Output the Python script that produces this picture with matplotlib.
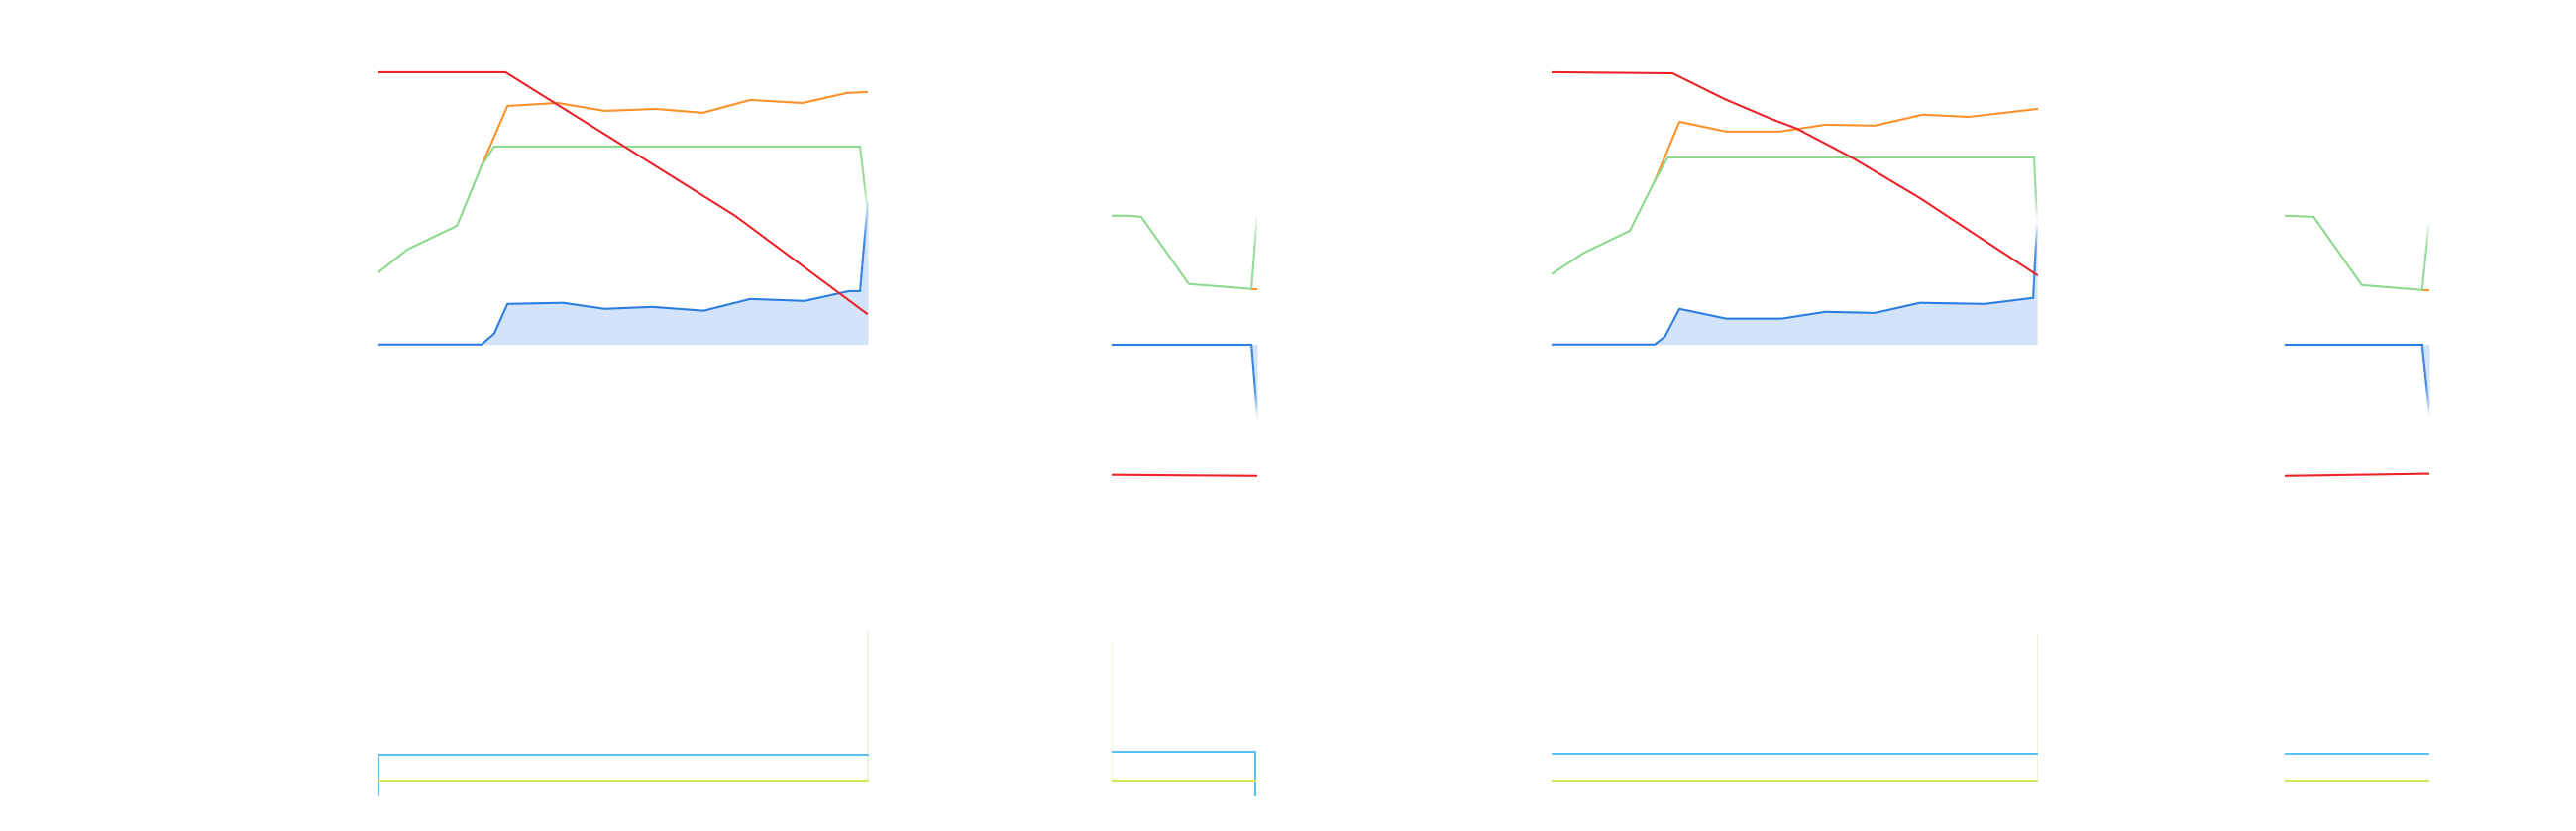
import numpy as np
import matplotlib
matplotlib.use("Agg")
import matplotlib.pyplot as plt
from matplotlib.collections import LineCollection

# colours
RED = "#ec2229"
ORANGE = "#fb9128"
GREEN = "#8dd98f"
BLUE = "#2b7de0"
FILL = "#d3e3f9"
SKY = "#5cc1f2"
YELLOW = "#d6e65c"

# ---- left half, main panel (x: 0..10) ----
l_red_x = [0, 2.59, 7.27, 9.96]
l_red_y = [100, 100, 47.3, 11.3]
l_orange_x = [2.10, 2.63, 3.66, 4.61, 5.66, 6.61, 7.58, 8.65, 9.56, 9.96]
l_orange_y = [65.5, 87.6, 88.7, 85.8, 86.5, 85.1, 89.8, 88.7, 92.4, 92.7]
l_green_x = [0, 0.59, 1.60, 2.10, 2.36, 9.82, 9.98]
l_green_y = [26.5, 34.9, 43.6, 65.5, 72.7, 72.7, 48.0]
l_blue_x = [0, 2.10, 2.36, 2.63, 3.76, 4.61, 5.58, 6.63, 7.58, 8.69, 9.60, 9.82, 9.98]
l_blue_y = [0, 0, 4.0, 14.9, 15.3, 13.1, 13.8, 12.4, 16.7, 16.0, 19.6, 19.6, 53.0]
l_sky_x = [0, 0, 9.98]
l_sky_y = [-165.5, -150.9, -150.9]
l_yellow_x = [0, 9.98]
l_yellow_y = [-160.4, -160.4]
l_ghost_x = [9.98, 9.98]
l_ghost_y = [-105.5, -160.4]

# ---- left half, small panel (x: 0..3) ----
ls_green_x = [0, 0.33, 0.61, 1.59, 2.88, 3.0]
ls_green_y = [47.3, 47.3, 46.9, 22.2, 20.4, 48.0]
ls_orange_x = [2.88, 3.0]
ls_orange_y = [20.4, 20.4]
ls_blue_x = [0, 2.88, 3.0]
ls_blue_y = [0, 0, -27.0]
ls_red_x = [0, 3.0]
ls_red_y = [-48.0, -48.4]
ls_sky_x = [0, 2.96, 2.96]
ls_sky_y = [-149.8, -149.8, -165.5]
ls_yellow_x = [0, 2.96]
ls_yellow_y = [-160.4, -160.4]
ls_ghost_x = [0, 0]
ls_ghost_y = [-109.0, -160.4]

# ---- right half, main panel (x: 0..10) ----
r_red_x = [0, 2.49, 3.55, 4.51, 5.04, 6.20, 7.57, 8.71, 9.98]
r_red_y = [100, 99.6, 90.2, 82.9, 79.3, 68.4, 53.8, 40.4, 25.5]
r_orange_x = [2.12, 2.63, 3.59, 4.69, 5.63, 6.65, 7.63, 8.59, 9.98]
r_orange_y = [60.0, 81.8, 78.2, 78.2, 80.7, 80.4, 84.4, 83.6, 86.5]
r_green_x = [0, 0.65, 1.61, 2.12, 2.39, 9.92, 9.98]
r_green_y = [25.8, 33.5, 41.8, 60.0, 68.7, 68.7, 45.0]
r_blue_x = [0, 2.12, 2.33, 2.63, 3.59, 4.73, 5.63, 6.65, 7.57, 8.90, 9.90, 9.98]
r_blue_y = [0, 0, 2.9, 13.1, 9.5, 9.5, 12.0, 11.6, 15.3, 14.9, 17.1, 45.0]
r_sky_x = [0, 9.98]
r_sky_y = [-150.5, -150.5]
r_yellow_x = [0, 9.98]
r_yellow_y = [-160.4, -160.4]
r_ghost_x = [10.0, 10.0]
r_ghost_y = [-106.0, -160.4]

# ---- right half, small panel (x: 0..3) ----
rs_green_x = [0, 0.60, 1.60, 2.85, 3.0]
rs_green_y = [47.3, 46.9, 21.8, 20.0, 46.0]
rs_orange_x = [2.85, 3.0]
rs_orange_y = [20.0, 20.0]
rs_blue_x = [0, 2.85, 3.0]
rs_blue_y = [0, 0, -26.0]
rs_red_x = [0, 3.0]
rs_red_y = [-48.4, -47.6]
rs_sky_x = [0, 3.0]
rs_sky_y = [-150.2, -150.2]
rs_yellow_x = [0, 3.0]
rs_yellow_y = [-160.4, -160.4]

YLIM = (-166.0, 104.7)


def panel(fig, px_left, px_right, xmax):
    W, H = 2600.0, 839.0
    top, bottom = 60.0, 804.0
    ax = fig.add_axes([px_left / W, 1 - bottom / H,
                       (px_right - px_left) / W, (bottom - top) / H])
    ax.set_xlim(0, xmax)
    ax.set_ylim(*YLIM)
    ax.axis("off")
    return ax


def fading_line(ax, x, y, color, lw=1.5, fade=0.45, z=3):
    # solid part up to the last point, last segment fades out
    ax.plot(x[:-1], y[:-1], color=color, lw=lw, solid_joinstyle="round", zorder=z)
    n = 40
    t = np.linspace(0, 1, n + 1)
    xs = x[-2] + (x[-1] - x[-2]) * t
    ys = y[-2] + (y[-1] - y[-2]) * t
    segs = [[(xs[i], ys[i]), (xs[i + 1], ys[i + 1])] for i in range(n)]
    rgba = np.array([matplotlib.colors.to_rgba(color)] * n)
    tm = (t[:-1] + t[1:]) / 2
    rgba[:, 3] = np.clip((1 - tm) / fade, 0, 1)
    ax.add_collection(LineCollection(segs, colors=rgba, linewidths=lw, zorder=z))


def draw_main(ax, red, orange, green, blue, sky, yellow, ghost=None):
    bx, by = blue
    ax.fill_between(bx, by, 0, color=FILL, lw=0, zorder=1)
    if ghost is not None:
        ax.plot(*ghost, color="#eef5d8", lw=1.2, zorder=1)
    fading_line(ax, list(green[0]), list(green[1]), GREEN)
    fading_line(ax, list(bx), list(by), BLUE)
    ax.plot(*orange, color=ORANGE, lw=1.5, zorder=2)
    ax.plot(*red, color=RED, lw=1.5, zorder=4)
    ax.plot(*sky, color=SKY, lw=1.5, zorder=2)
    ax.plot(*yellow, color=YELLOW, lw=1.5, zorder=2)


def draw_small(ax, green, orange, blue, red, sky, yellow, ghost=None):
    bx, by = blue
    ax.fill_between(bx, by, 0, color=FILL, lw=0, zorder=1)
    if ghost is not None:
        ax.plot(*ghost, color="#f3f8d0", lw=1.2, zorder=1)
    ax.plot(*orange, color=ORANGE, lw=1.5, zorder=2)
    fading_line(ax, list(green[0]), list(green[1]), GREEN)
    fading_line(ax, list(bx), list(by), BLUE)
    ax.plot(*red, color=RED, lw=1.5, zorder=4)
    ax.plot(*sky, color=SKY, lw=1.5, zorder=2)
    ax.plot(*yellow, color=YELLOW, lw=1.5, zorder=2)


fig = plt.figure(figsize=(26, 8.39), dpi=100)
fig.patch.set_facecolor("white")

ax1 = panel(fig, 382, 877, 10)
draw_main(ax1, (l_red_x, l_red_y), (l_orange_x, l_orange_y),
          (l_green_x, l_green_y), (l_blue_x, l_blue_y),
          (l_sky_x, l_sky_y), (l_yellow_x, l_yellow_y), (l_ghost_x, l_ghost_y))

ax2 = panel(fig, 1122, 1269, 3)
draw_small(ax2, (ls_green_x, ls_green_y), (ls_orange_x, ls_orange_y),
           (ls_blue_x, ls_blue_y), (ls_red_x, ls_red_y),
           (ls_sky_x, ls_sky_y), (ls_yellow_x, ls_yellow_y), (ls_ghost_x, ls_ghost_y))

ax3 = panel(fig, 1566, 2057, 10)
draw_main(ax3, (r_red_x, r_red_y), (r_orange_x, r_orange_y),
          (r_green_x, r_green_y), (r_blue_x, r_blue_y),
          (r_sky_x, r_sky_y), (r_yellow_x, r_yellow_y), (r_ghost_x, r_ghost_y))

ax4 = panel(fig, 2306, 2452, 3)
draw_small(ax4, (rs_green_x, rs_green_y), (rs_orange_x, rs_orange_y),
           (rs_blue_x, rs_blue_y), (rs_red_x, rs_red_y),
           (rs_sky_x, rs_sky_y), (rs_yellow_x, rs_yellow_y))

fig.savefig("out.png", dpi=100, facecolor="white")
